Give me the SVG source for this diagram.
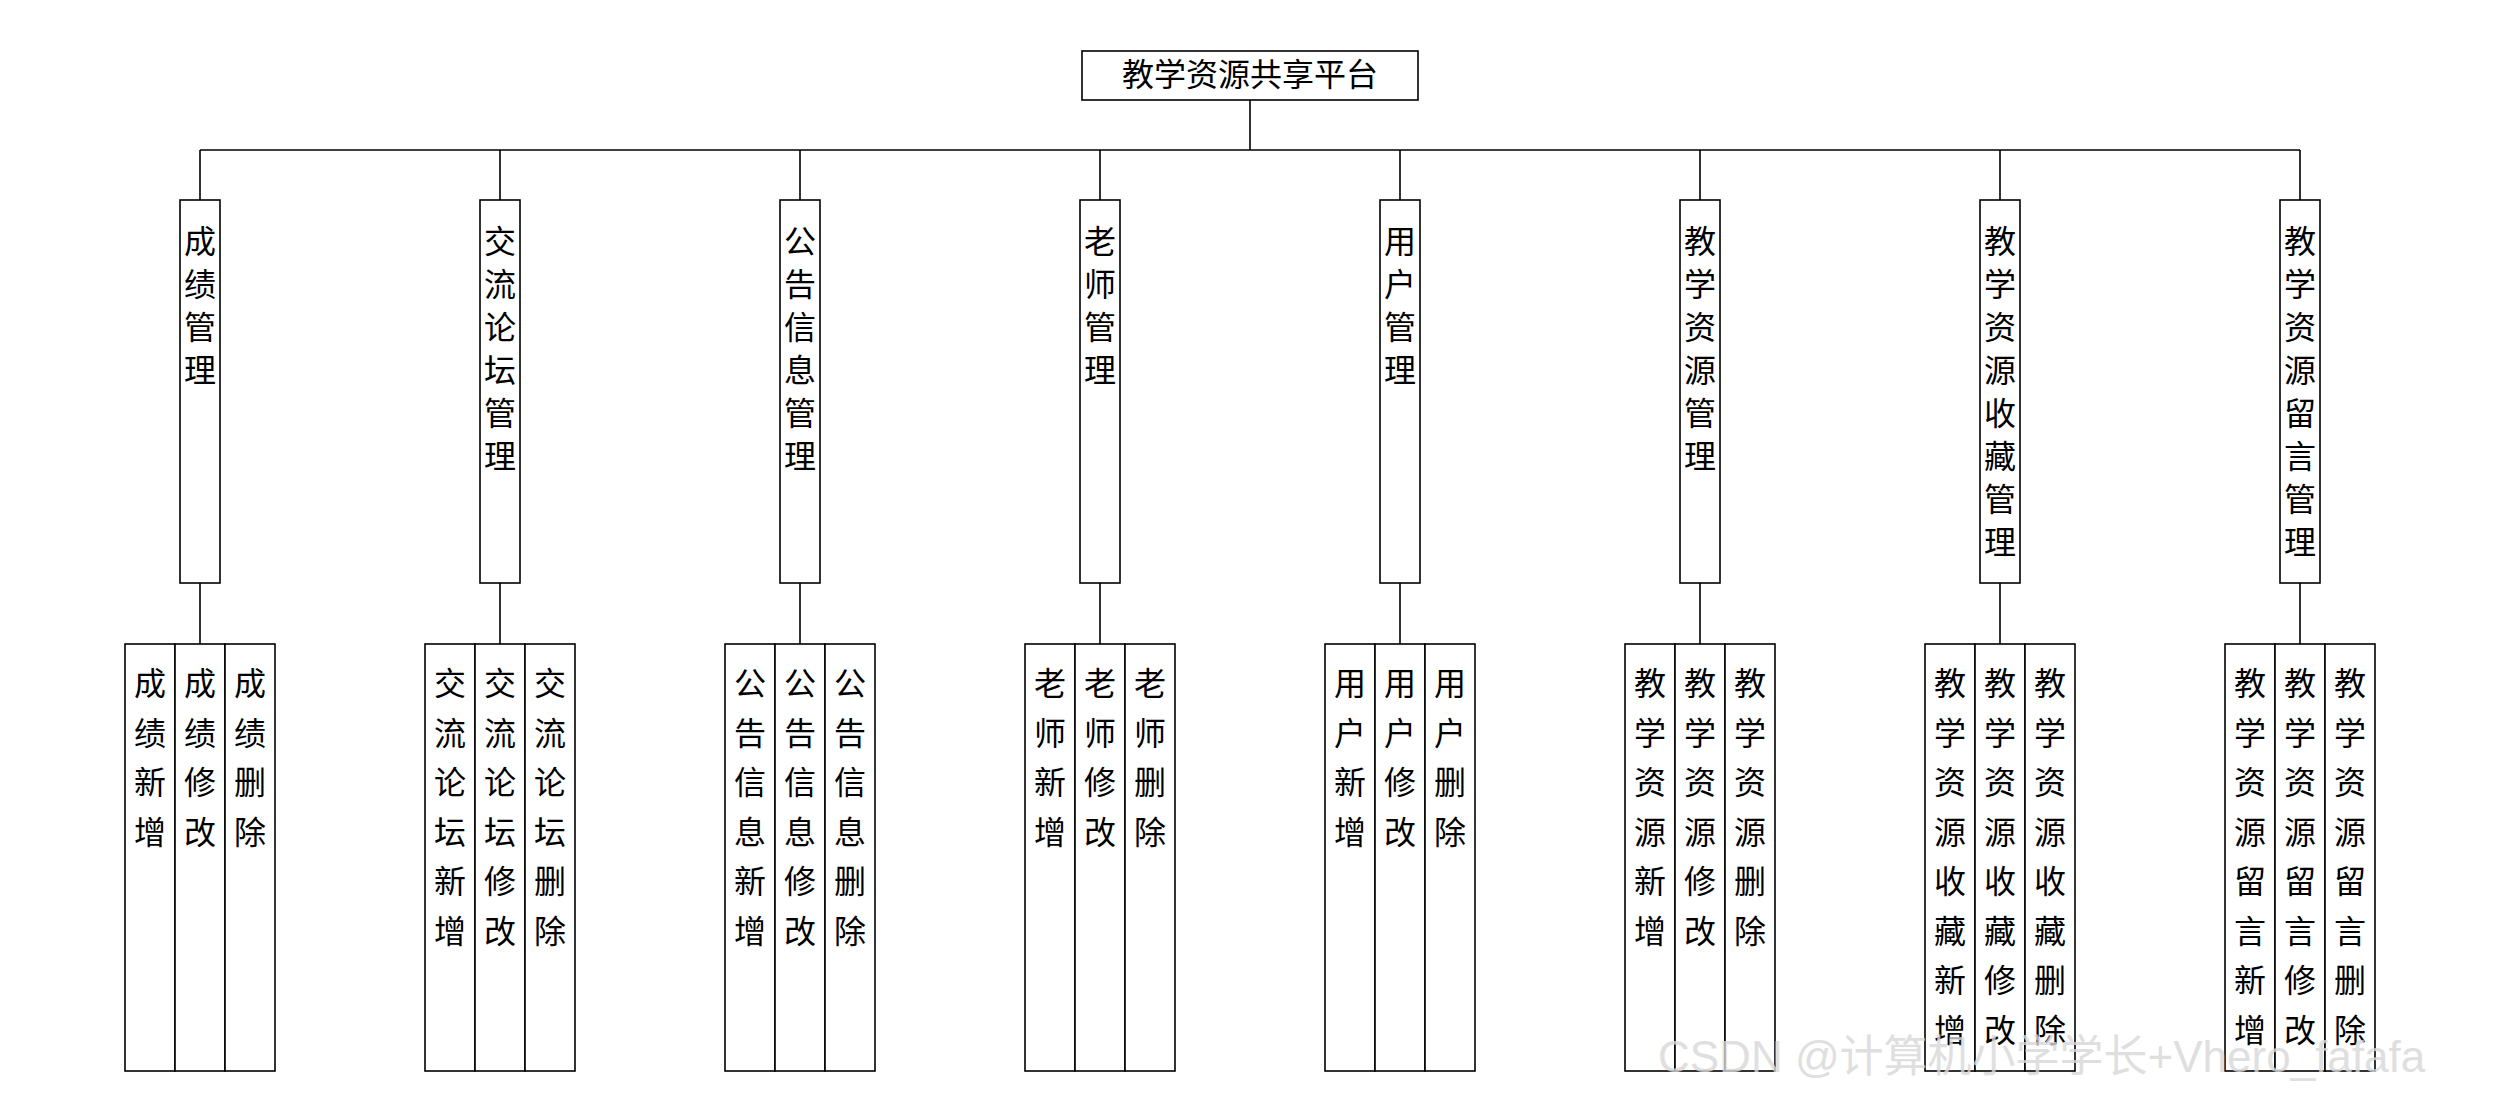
<svg xmlns="http://www.w3.org/2000/svg" width="2500" height="1100" viewBox="0 0 2500 1100">
<style>
.b{fill:#fff;stroke:#000;stroke-width:1.6}
.c{stroke:#000;stroke-width:1.6;fill:none}
text{font-family:"Noto Sans CJK SC","Noto Sans",sans-serif;font-size:32px;fill:#000;text-anchor:middle}
.wm{fill:#d8d8d8;font-family:"Liberation Sans","Noto Sans CJK SC",sans-serif;font-size:44px;text-anchor:start}
</style>
<rect width="2500" height="1100" fill="#fff"/>
<g id="connectors">
<path class="c" d="M1250 100V150M200 150H2300M200 150V200M500 150V200M800 150V200M1100 150V200M1400 150V200M1700 150V200M2000 150V200M2300 150V200"/>
<path class="c" d="M200 583V644M500 583V644M800 583V644M1100 583V644M1400 583V644M1700 583V644M2000 583V644M2300 583V644"/>
</g>
<g id="root"><rect class="b" x="1082" y="51" width="336" height="49"/><text x="1250" y="86">教学资源共享平台</text></g>
<g id="n1"><rect class="b" x="180" y="200" width="40" height="383"/><text x="200" y="253"><tspan x="200">成</tspan><tspan x="200" dy="43">绩</tspan><tspan x="200" dy="43">管</tspan><tspan x="200" dy="43">理</tspan></text></g>
<g id="n2"><rect class="b" x="480" y="200" width="40" height="383"/><text x="500" y="253"><tspan x="500">交</tspan><tspan x="500" dy="43">流</tspan><tspan x="500" dy="43">论</tspan><tspan x="500" dy="43">坛</tspan><tspan x="500" dy="43">管</tspan><tspan x="500" dy="43">理</tspan></text></g>
<g id="n3"><rect class="b" x="780" y="200" width="40" height="383"/><text x="800" y="253"><tspan x="800">公</tspan><tspan x="800" dy="43">告</tspan><tspan x="800" dy="43">信</tspan><tspan x="800" dy="43">息</tspan><tspan x="800" dy="43">管</tspan><tspan x="800" dy="43">理</tspan></text></g>
<g id="n4"><rect class="b" x="1080" y="200" width="40" height="383"/><text x="1100" y="253"><tspan x="1100">老</tspan><tspan x="1100" dy="43">师</tspan><tspan x="1100" dy="43">管</tspan><tspan x="1100" dy="43">理</tspan></text></g>
<g id="n5"><rect class="b" x="1380" y="200" width="40" height="383"/><text x="1400" y="253"><tspan x="1400">用</tspan><tspan x="1400" dy="43">户</tspan><tspan x="1400" dy="43">管</tspan><tspan x="1400" dy="43">理</tspan></text></g>
<g id="n6"><rect class="b" x="1680" y="200" width="40" height="383"/><text x="1700" y="253"><tspan x="1700">教</tspan><tspan x="1700" dy="43">学</tspan><tspan x="1700" dy="43">资</tspan><tspan x="1700" dy="43">源</tspan><tspan x="1700" dy="43">管</tspan><tspan x="1700" dy="43">理</tspan></text></g>
<g id="n7"><rect class="b" x="1980" y="200" width="40" height="383"/><text x="2000" y="253"><tspan x="2000">教</tspan><tspan x="2000" dy="43">学</tspan><tspan x="2000" dy="43">资</tspan><tspan x="2000" dy="43">源</tspan><tspan x="2000" dy="43">收</tspan><tspan x="2000" dy="43">藏</tspan><tspan x="2000" dy="43">管</tspan><tspan x="2000" dy="43">理</tspan></text></g>
<g id="n8"><rect class="b" x="2280" y="200" width="40" height="383"/><text x="2300" y="253"><tspan x="2300">教</tspan><tspan x="2300" dy="43">学</tspan><tspan x="2300" dy="43">资</tspan><tspan x="2300" dy="43">源</tspan><tspan x="2300" dy="43">留</tspan><tspan x="2300" dy="43">言</tspan><tspan x="2300" dy="43">管</tspan><tspan x="2300" dy="43">理</tspan></text></g>

<g id="l1">
<rect class="b" x="125" y="644" width="50" height="427"/><rect class="b" x="175" y="644" width="50" height="427"/><rect class="b" x="225" y="644" width="50" height="427"/>
<text x="150" y="695"><tspan x="150">成</tspan><tspan x="150" dy="49.5">绩</tspan><tspan x="150" dy="49.5">新</tspan><tspan x="150" dy="49.5">增</tspan></text>
<text x="200" y="695"><tspan x="200">成</tspan><tspan x="200" dy="49.5">绩</tspan><tspan x="200" dy="49.5">修</tspan><tspan x="200" dy="49.5">改</tspan></text>
<text x="250" y="695"><tspan x="250">成</tspan><tspan x="250" dy="49.5">绩</tspan><tspan x="250" dy="49.5">删</tspan><tspan x="250" dy="49.5">除</tspan></text>
</g>
<g id="l2">
<rect class="b" x="425" y="644" width="50" height="427"/><rect class="b" x="475" y="644" width="50" height="427"/><rect class="b" x="525" y="644" width="50" height="427"/>
<text x="450" y="695"><tspan x="450">交</tspan><tspan x="450" dy="49.5">流</tspan><tspan x="450" dy="49.5">论</tspan><tspan x="450" dy="49.5">坛</tspan><tspan x="450" dy="49.5">新</tspan><tspan x="450" dy="49.5">增</tspan></text>
<text x="500" y="695"><tspan x="500">交</tspan><tspan x="500" dy="49.5">流</tspan><tspan x="500" dy="49.5">论</tspan><tspan x="500" dy="49.5">坛</tspan><tspan x="500" dy="49.5">修</tspan><tspan x="500" dy="49.5">改</tspan></text>
<text x="550" y="695"><tspan x="550">交</tspan><tspan x="550" dy="49.5">流</tspan><tspan x="550" dy="49.5">论</tspan><tspan x="550" dy="49.5">坛</tspan><tspan x="550" dy="49.5">删</tspan><tspan x="550" dy="49.5">除</tspan></text>
</g>
<g id="l3">
<rect class="b" x="725" y="644" width="50" height="427"/><rect class="b" x="775" y="644" width="50" height="427"/><rect class="b" x="825" y="644" width="50" height="427"/>
<text x="750" y="695"><tspan x="750">公</tspan><tspan x="750" dy="49.5">告</tspan><tspan x="750" dy="49.5">信</tspan><tspan x="750" dy="49.5">息</tspan><tspan x="750" dy="49.5">新</tspan><tspan x="750" dy="49.5">增</tspan></text>
<text x="800" y="695"><tspan x="800">公</tspan><tspan x="800" dy="49.5">告</tspan><tspan x="800" dy="49.5">信</tspan><tspan x="800" dy="49.5">息</tspan><tspan x="800" dy="49.5">修</tspan><tspan x="800" dy="49.5">改</tspan></text>
<text x="850" y="695"><tspan x="850">公</tspan><tspan x="850" dy="49.5">告</tspan><tspan x="850" dy="49.5">信</tspan><tspan x="850" dy="49.5">息</tspan><tspan x="850" dy="49.5">删</tspan><tspan x="850" dy="49.5">除</tspan></text>
</g>
<g id="l4">
<rect class="b" x="1025" y="644" width="50" height="427"/><rect class="b" x="1075" y="644" width="50" height="427"/><rect class="b" x="1125" y="644" width="50" height="427"/>
<text x="1050" y="695"><tspan x="1050">老</tspan><tspan x="1050" dy="49.5">师</tspan><tspan x="1050" dy="49.5">新</tspan><tspan x="1050" dy="49.5">增</tspan></text>
<text x="1100" y="695"><tspan x="1100">老</tspan><tspan x="1100" dy="49.5">师</tspan><tspan x="1100" dy="49.5">修</tspan><tspan x="1100" dy="49.5">改</tspan></text>
<text x="1150" y="695"><tspan x="1150">老</tspan><tspan x="1150" dy="49.5">师</tspan><tspan x="1150" dy="49.5">删</tspan><tspan x="1150" dy="49.5">除</tspan></text>
</g>
<g id="l5">
<rect class="b" x="1325" y="644" width="50" height="427"/><rect class="b" x="1375" y="644" width="50" height="427"/><rect class="b" x="1425" y="644" width="50" height="427"/>
<text x="1350" y="695"><tspan x="1350">用</tspan><tspan x="1350" dy="49.5">户</tspan><tspan x="1350" dy="49.5">新</tspan><tspan x="1350" dy="49.5">增</tspan></text>
<text x="1400" y="695"><tspan x="1400">用</tspan><tspan x="1400" dy="49.5">户</tspan><tspan x="1400" dy="49.5">修</tspan><tspan x="1400" dy="49.5">改</tspan></text>
<text x="1450" y="695"><tspan x="1450">用</tspan><tspan x="1450" dy="49.5">户</tspan><tspan x="1450" dy="49.5">删</tspan><tspan x="1450" dy="49.5">除</tspan></text>
</g>
<g id="l6">
<rect class="b" x="1625" y="644" width="50" height="427"/><rect class="b" x="1675" y="644" width="50" height="427"/><rect class="b" x="1725" y="644" width="50" height="427"/>
<text x="1650" y="695"><tspan x="1650">教</tspan><tspan x="1650" dy="49.5">学</tspan><tspan x="1650" dy="49.5">资</tspan><tspan x="1650" dy="49.5">源</tspan><tspan x="1650" dy="49.5">新</tspan><tspan x="1650" dy="49.5">增</tspan></text>
<text x="1700" y="695"><tspan x="1700">教</tspan><tspan x="1700" dy="49.5">学</tspan><tspan x="1700" dy="49.5">资</tspan><tspan x="1700" dy="49.5">源</tspan><tspan x="1700" dy="49.5">修</tspan><tspan x="1700" dy="49.5">改</tspan></text>
<text x="1750" y="695"><tspan x="1750">教</tspan><tspan x="1750" dy="49.5">学</tspan><tspan x="1750" dy="49.5">资</tspan><tspan x="1750" dy="49.5">源</tspan><tspan x="1750" dy="49.5">删</tspan><tspan x="1750" dy="49.5">除</tspan></text>
</g>
<g id="l7">
<rect class="b" x="1925" y="644" width="50" height="427"/><rect class="b" x="1975" y="644" width="50" height="427"/><rect class="b" x="2025" y="644" width="50" height="427"/>
<text x="1950" y="695"><tspan x="1950">教</tspan><tspan x="1950" dy="49.5">学</tspan><tspan x="1950" dy="49.5">资</tspan><tspan x="1950" dy="49.5">源</tspan><tspan x="1950" dy="49.5">收</tspan><tspan x="1950" dy="49.5">藏</tspan><tspan x="1950" dy="49.5">新</tspan><tspan x="1950" dy="49.5">增</tspan></text>
<text x="2000" y="695"><tspan x="2000">教</tspan><tspan x="2000" dy="49.5">学</tspan><tspan x="2000" dy="49.5">资</tspan><tspan x="2000" dy="49.5">源</tspan><tspan x="2000" dy="49.5">收</tspan><tspan x="2000" dy="49.5">藏</tspan><tspan x="2000" dy="49.5">修</tspan><tspan x="2000" dy="49.5">改</tspan></text>
<text x="2050" y="695"><tspan x="2050">教</tspan><tspan x="2050" dy="49.5">学</tspan><tspan x="2050" dy="49.5">资</tspan><tspan x="2050" dy="49.5">源</tspan><tspan x="2050" dy="49.5">收</tspan><tspan x="2050" dy="49.5">藏</tspan><tspan x="2050" dy="49.5">删</tspan><tspan x="2050" dy="49.5">除</tspan></text>
</g>
<g id="l8">
<rect class="b" x="2225" y="644" width="50" height="427"/><rect class="b" x="2275" y="644" width="50" height="427"/><rect class="b" x="2325" y="644" width="50" height="427"/>
<text x="2250" y="695"><tspan x="2250">教</tspan><tspan x="2250" dy="49.5">学</tspan><tspan x="2250" dy="49.5">资</tspan><tspan x="2250" dy="49.5">源</tspan><tspan x="2250" dy="49.5">留</tspan><tspan x="2250" dy="49.5">言</tspan><tspan x="2250" dy="49.5">新</tspan><tspan x="2250" dy="49.5">增</tspan></text>
<text x="2300" y="695"><tspan x="2300">教</tspan><tspan x="2300" dy="49.5">学</tspan><tspan x="2300" dy="49.5">资</tspan><tspan x="2300" dy="49.5">源</tspan><tspan x="2300" dy="49.5">留</tspan><tspan x="2300" dy="49.5">言</tspan><tspan x="2300" dy="49.5">修</tspan><tspan x="2300" dy="49.5">改</tspan></text>
<text x="2350" y="695"><tspan x="2350">教</tspan><tspan x="2350" dy="49.5">学</tspan><tspan x="2350" dy="49.5">资</tspan><tspan x="2350" dy="49.5">源</tspan><tspan x="2350" dy="49.5">留</tspan><tspan x="2350" dy="49.5">言</tspan><tspan x="2350" dy="49.5">删</tspan><tspan x="2350" dy="49.5">除</tspan></text>
</g>
<text class="wm" x="1658" y="1072" opacity="0.8">CSDN @计算机小学学长+Vhero_fafafa</text>
</svg>
